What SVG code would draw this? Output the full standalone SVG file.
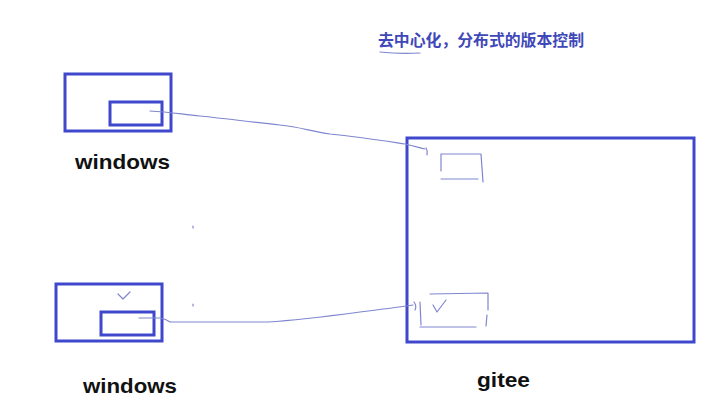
<svg xmlns="http://www.w3.org/2000/svg" width="721" height="405" viewBox="0 0 721 405">
<style>
.box{fill:none;stroke:#3f48cc;stroke-width:3}
.sk{fill:none;stroke:#7f86cf;stroke-width:1.2;stroke-linecap:round;stroke-linejoin:round}
.lbl{font-family:"Liberation Sans",Arial,sans-serif;font-weight:bold;font-size:21px;fill:#111}
.title{font-family:"Noto Sans CJK SC","Liberation Sans",sans-serif;font-weight:bold;font-size:15.5px;fill:#3f48b8}
</style>
<rect width="721" height="405" fill="#fff"/>
<g id="title">
<text class="title" x="378" y="46" textLength="206" lengthAdjust="spacingAndGlyphs">去中心化，分布式的版本控制</text>
<path class="sk" d="M380,52 Q398,54 420,53"/>
</g>
<g id="windows-top">
<rect class="box" x="65" y="74" width="106" height="57"/>
<rect class="box" x="110" y="102" width="52" height="23"/>
<text class="lbl" x="75" y="169" textLength="95" lengthAdjust="spacingAndGlyphs">windows</text>
</g>
<g id="windows-bottom">
<rect class="box" x="56" y="284" width="106" height="57"/>
<rect class="box" x="101" y="312" width="53" height="23"/>
<path class="sk" d="M118,294 L123,299 L130,292"/>
<text class="lbl" x="83" y="393" textLength="94" lengthAdjust="spacingAndGlyphs">windows</text>
</g>
<g id="gitee">
<rect class="box" x="407" y="138" width="287" height="204"/>
<path class="sk" d="M441,154 L481,154 L483,182 M441,154 L441,171 M441,179 L478,179"/>
<path class="sk" d="M430,294 L488,293 L488,310 M487,315 L486,326 M420,302 L421,325 M420,327 L476,327"/>
<path class="sk" d="M433,305 L437,312 L446,300"/>
<text class="lbl" x="477" y="387" textLength="53" lengthAdjust="spacingAndGlyphs">gitee</text>
</g>
<g id="connectors">
<path class="sk" d="M150,111 C170,112 180,114 200,116 C230,119 250,122 280,125 C300,127 310,131 330,134 C360,137 385,141 405,144 C415,146 420,148 425,149"/>
<path class="sk" d="M426,148 Q428,151 427,155"/>
<path class="sk" d="M139,318 L160,318 Q166,319 170,322 L268,322 C300,320 330,316 360,312 C385,309 400,307 413,305"/>
<path class="sk" d="M414,302 Q417,306 415,310"/>
<path class="sk" d="M193,226 L193,228 M193,304 L193,306"/>
</g>
</svg>
